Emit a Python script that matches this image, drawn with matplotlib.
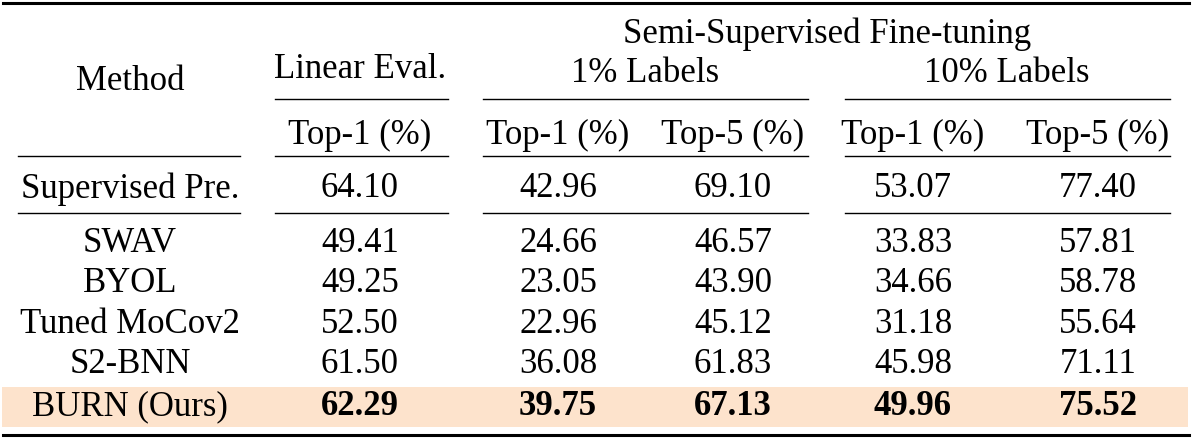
import matplotlib
matplotlib.use("Agg")
import matplotlib.pyplot as plt

methods = ["Supervised Pre.", "SWAV", "BYOL", "Tuned MoCov2", "S2-BNN", "BURN (Ours)"]
linear_top1 = ["64.10", "49.41", "49.25", "52.50", "61.50", "62.29"]
semi1_top1 = ["42.96", "24.66", "23.05", "22.96", "36.08", "39.75"]
semi1_top5 = ["69.10", "46.57", "43.90", "45.12", "61.83", "67.13"]
semi10_top1 = ["53.07", "33.83", "34.66", "31.18", "45.98", "49.96"]
semi10_top5 = ["77.40", "57.81", "58.78", "55.64", "71.11", "75.52"]

W, H = 1192, 439
fig = plt.figure(figsize=(W / 100, H / 100), dpi=100)
ax = fig.add_axes([0, 0, 1, 1])
ax.set_xlim(0, W); ax.set_ylim(H, 0); ax.axis("off")

FONT = "Liberation Serif"
FS = 25
col_x = [130, 360, 558, 733, 913, 1098]
row_y = [187, 242, 282, 323, 363, 405]

def txt(x, y, s, bold=False):
    ax.text(x, y + 2, s, ha="center", va="center", family=FONT, fontsize=FS,
            fontweight="bold" if bold else "normal", color="black")

# highlight row
ax.add_patch(plt.Rectangle((2, 388), 1186, 40, color="#FDE3CC", lw=0, zorder=0))

# rules
ax.plot([3, 1189], [4, 4], color="black", lw=2.2)
ax.plot([3, 1189], [436, 436], color="black", lw=2.2)
segs = [(275, 448), (483, 808), (845, 1170)]
for a, b in segs:
    ax.plot([a, b], [100, 100], color="black", lw=1)
for y in (157, 214):
    for a, b in [(18, 240)] + segs:
        ax.plot([a, b], [y, y], color="black", lw=1)

# headers
txt(130, 80, "Method")
txt(360, 68, "Linear Eval.")
txt(827, 32, "Semi-Supervised Fine-tuning")
txt(645, 71, "1% Labels")
txt(1007, 71, "10% Labels")
for x in col_x[1:]:
    sub = "Top-5 (%)" if x in (733, 1098) else "Top-1 (%)"
    txt(x, 133, sub)

cols = [methods, linear_top1, semi1_top1, semi1_top5, semi10_top1, semi10_top5]
for ci, col in enumerate(cols):
    for ri, val in enumerate(col):
        txt(col_x[ci], row_y[ri], val, bold=(ri == len(col) - 1 and ci > 0))

fig.savefig("out.png", dpi=100, facecolor="white")
